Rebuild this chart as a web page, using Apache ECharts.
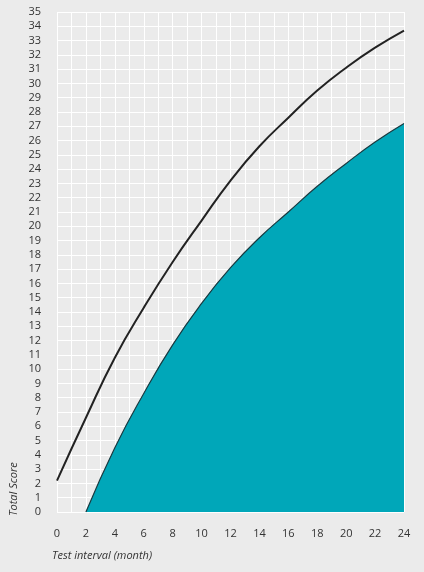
<!DOCTYPE html>
<html><head><meta charset="utf-8">
<script src="https://cdn.jsdelivr.net/npm/echarts@6/dist/echarts.min.js"></script>
<style>html,body{margin:0;background:#ebebeb}#c{width:424px;height:572px}</style>
</head><body><div id="c"></div>
<script>
var months = [0, 2, 4, 6, 8, 10, 12, 14, 16, 18, 20, 22, 24];
var upper = [2.2, 6.6, 10.8, 14.3, 17.5, 20.4, 23.2, 25.6, 27.6, 29.5, 31.1, 32.5, 33.7];
var lowerMonths = [2, 4, 6, 8, 10, 12, 14, 16, 18, 20, 22, 24];
var lower = [0, 4.5, 8.3, 11.7, 14.6, 17.1, 19.2, 21.0, 22.8, 24.4, 25.9, 27.2];

var chart = echarts.init(document.getElementById('c'));
var font = {fontFamily: 'Open Sans', color: '#333', fontSize: 11};
chart.setOption({
  backgroundColor: '#ebebeb',
  grid: {left: 57, right: 20, top: 12, bottom: 60, outerBoundsMode: 'none'},
  graphic: [
    {type: 'text', left: 52, top: 550,
     style: {text: 'Test interval (month)', font: 'italic 11px "Open Sans"', fill: '#333'}},
    {type: 'text', x: 8, y: 516, rotation: Math.PI / 2,
     style: {text: 'Total Score', font: 'italic 11px "Open Sans"', fill: '#333'}}
  ],
  xAxis: {
    type: 'value', min: 0, max: 24, interval: 1,
    axisLine: {show: false}, axisTick: {show: false},
    axisLabel: Object.assign({margin: 16, formatter: function (v) { return v % 2 === 0 ? v : ''; }}, font),
    splitLine: {lineStyle: {color: '#fff', width: 1}}
  },
  yAxis: {
    type: 'value', min: 0, max: 35, interval: 1,
    axisLine: {show: false}, axisTick: {show: false},
    axisLabel: Object.assign({margin: 16}, font),
    splitLine: {lineStyle: {color: '#fff', width: 1}}
  },
  series: [
    {type: 'line', smooth: true, symbol: 'none', z: 3,
     data: lowerMonths.map(function (m, i) { return [m, lower[i]]; }),
     lineStyle: {color: '#1a3a40', width: 1.2},
     areaStyle: {color: '#00a7b9', opacity: 1, origin: 'start'}},
    {type: 'line', smooth: true, symbol: 'none', z: 4,
     data: months.map(function (m, i) { return [m, upper[i]]; }),
     lineStyle: {color: '#222', width: 2}}
  ]
});
</script></body></html>
